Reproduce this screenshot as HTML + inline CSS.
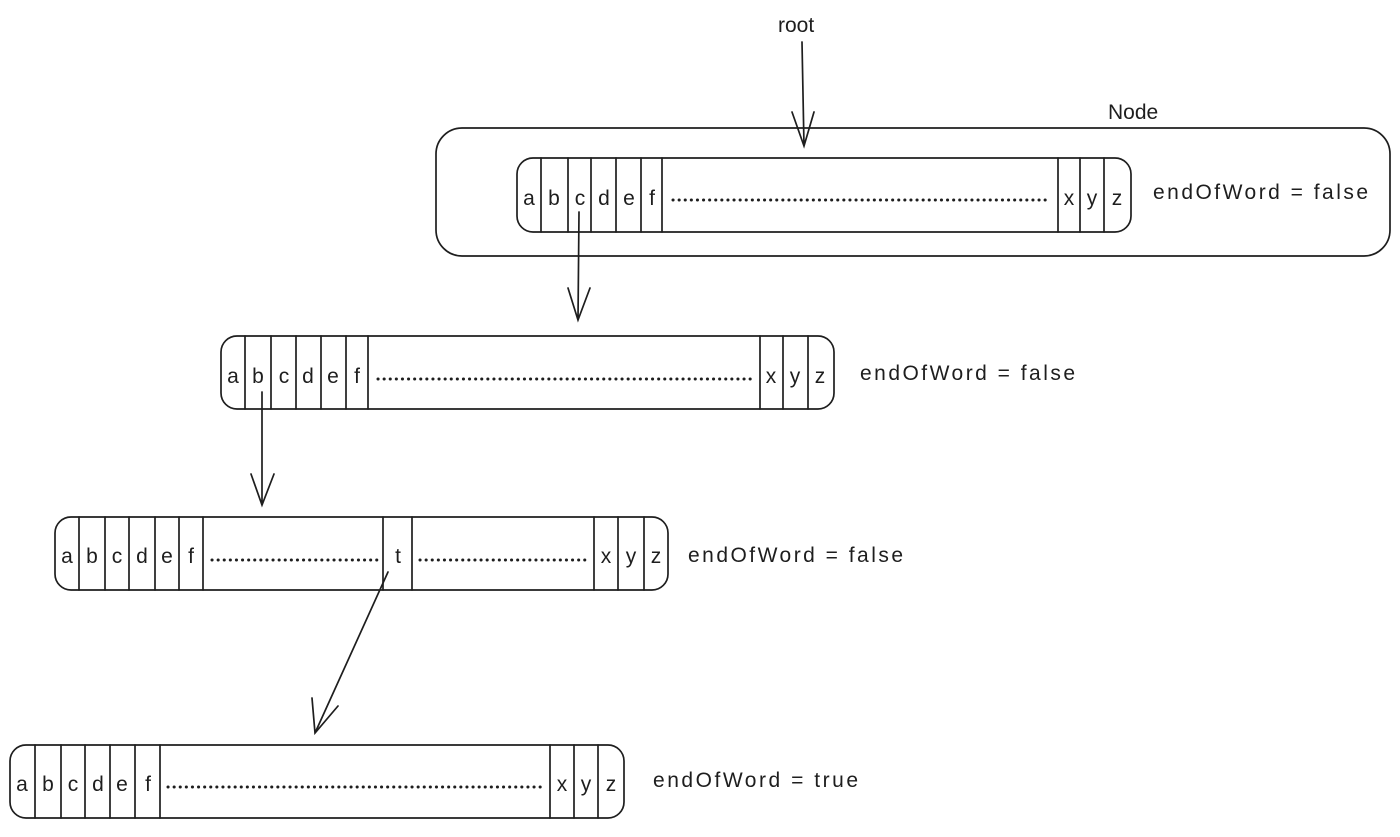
<!DOCTYPE html>
<html><head><style>
html,body{margin:0;padding:0;background:#fff}
svg text{font-family:"Liberation Sans",sans-serif;font-size:21px;fill:#1e1e1e}
</style></head><body>
<svg width="1400" height="832" viewBox="0 0 1400 832" xmlns="http://www.w3.org/2000/svg">
<g stroke="#1e1e1e" stroke-width="1.7" fill="none" stroke-linecap="round">
<rect x="436" y="128" width="954" height="128" rx="26"/>
<path d="M802 42 L804 146 M792 112 L804 146 L814 112"/>
<rect x="517" y="158" width="614" height="74" rx="16"/>
<path d="M541 158v74M568 158v74M591 158v74M616 158v74M641 158v74M662 158v74M1058 158v74M1080 158v74M1104 158v74"/>
<path d="M579 212 L578 320 M568 288 L578 320 L590 288"/>
<rect x="221" y="336" width="613" height="73" rx="16"/>
<path d="M245 336v73M271 336v73M296 336v73M321 336v73M346 336v73M368 336v73M760 336v73M783 336v73M808 336v73"/>
<path d="M262 392 L262 505 M251 474 L262 505 L274 474"/>
<rect x="55" y="517" width="613" height="73" rx="16"/>
<path d="M79 517v73M105 517v73M129 517v73M155 517v73M179 517v73M203 517v73M383 517v73M412 517v73M594 517v73M618 517v73M644 517v73"/>
<path d="M388 572 L315 733 M312 698 L315 733 L338 706"/>
<rect x="10" y="745" width="614" height="73" rx="16"/>
<path d="M35 745v73M61 745v73M85 745v73M110 745v73M135 745v73M160 745v73M550 745v73M574 745v73M598 745v73"/>
</g>
<g stroke="#1e1e1e" stroke-width="3" stroke-dasharray="0.1 6" stroke-linecap="round">
<path d="M673 200 H1046"/>
<path d="M378 379 H752"/>
<path d="M212 560 H378 M420 560 H588"/>
<path d="M168 787 H542"/>
</g>
<text x="778" y="32">root</text>
<text x="1108" y="119">Node</text>
<g text-anchor="middle">
<text x="529" y="205">a</text><text x="554" y="205">b</text><text x="580" y="205">c</text><text x="604" y="205">d</text><text x="629" y="205">e</text><text x="652" y="205">f</text><text x="1069" y="205">x</text><text x="1092" y="205">y</text><text x="1117" y="205">z</text>
<text x="233" y="383">a</text><text x="258" y="383">b</text><text x="284" y="383">c</text><text x="308" y="383">d</text><text x="333" y="383">e</text><text x="357" y="383">f</text><text x="771" y="383">x</text><text x="795" y="383">y</text><text x="820" y="383">z</text>
<text x="67" y="563">a</text><text x="92" y="563">b</text><text x="117" y="563">c</text><text x="142" y="563">d</text><text x="167" y="563">e</text><text x="191" y="563">f</text><text x="398" y="563">t</text><text x="606" y="563">x</text><text x="631" y="563">y</text><text x="656" y="563">z</text>
<text x="22" y="791">a</text><text x="48" y="791">b</text><text x="73" y="791">c</text><text x="98" y="791">d</text><text x="122" y="791">e</text><text x="148" y="791">f</text><text x="562" y="791">x</text><text x="586" y="791">y</text><text x="611" y="791">z</text>
</g>
<text x="1153" y="199" textLength="215">endOfWord = false</text>
<text x="860" y="380" textLength="215">endOfWord = false</text>
<text x="688" y="562" textLength="215">endOfWord = false</text>
<text x="653" y="787" textLength="205">endOfWord = true</text>
</svg>
</body></html>
